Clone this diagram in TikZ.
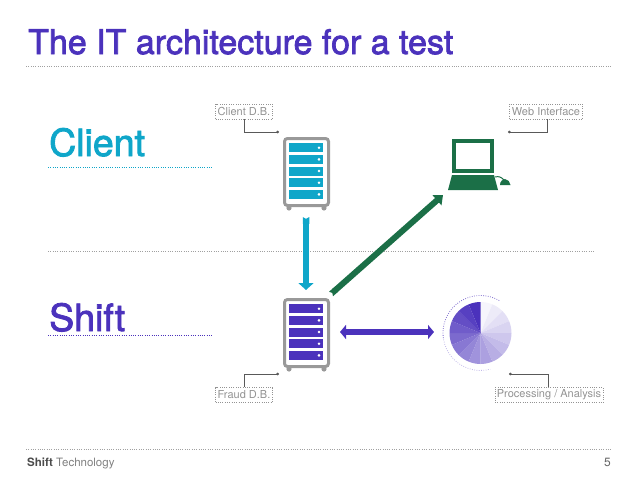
\documentclass[tikz,border=0pt]{standalone}
\usepackage{fontspec}
\setmainfont{TeX Gyre Heros}
\newfontfamily\medfont[FakeBold=2.2]{TeX Gyre Heros}
\usetikzlibrary{arrows.meta,calc}
\definecolor{shiftpurple}{HTML}{4B32BC}
\definecolor{clientcyan}{HTML}{0FA6C9}
\definecolor{webgreen}{HTML}{1B6F47}
\definecolor{rackgray}{HTML}{999999}
\definecolor{labelgray}{HTML}{939393}
\definecolor{rulegray}{HTML}{A0A0A0}
\tikzset{
  x=1pt,y=-1pt,
  hrule/.style={line width=0.8pt,dash pattern=on 0.8pt off 1.5pt},
  chead/.style={anchor=base west,inner sep=0pt,font=\medfont\fontsize{37.5}{37}\selectfont},
  callout/.style={draw=labelgray,line width=0.7pt,dash pattern=on 0.8pt off 1.5pt,text=labelgray,font=\fontsize{11}{11}\selectfont,inner sep=0pt,minimum height=15pt},
  lead/.style={draw=black!65,line width=0.8pt,{Circle[length=2.6pt]}-},
  serverbox/.style={draw=rackgray,line width=3pt,rounded corners=3pt,minimum width=44pt,minimum height=67pt,inner sep=0pt},
}
\newcommand{\serverbars}[2]{% name, colour
  \foreach \i in {0,1,2,3,4}{
    \fill[#2] ($(#1.north west)+(6.2,{6.3+11.67*\i})$) rectangle ++(34,9);
    \fill[white] ($(#1.north west)+(36,{10.7+11.67*\i})$) circle (1.4);
  }
  \fill[rackgray] ($(#1.south west)+(6,1)$) circle (2.6);
  \fill[rackgray] ($(#1.south east)+(-6,1)$) circle (2.6);
}
\begin{document}
\begin{tikzpicture}
\useasboundingbox (0,0) rectangle (638,479);
% title and rules
\node[anchor=base west,inner sep=0pt,text=shiftpurple,font=\medfont\fontsize{34}{34}\selectfont] (title) at (28,54) {The IT architecture for a test};
\coordinate (r1a) at (26,66); \coordinate (r1b) at (612,66);
\draw[hrule,rulegray] (r1a) -- (r1b);
\node[chead,text=clientcyan] (client) at (49,156) {Client};
\coordinate (r2a) at (48,167); \coordinate (r2b) at (213,167);
\draw[hrule,clientcyan] (r2a) -- (r2b);
\coordinate (r3a) at (48,251); \coordinate (r3b) at (594,251);
\draw[hrule,rulegray] (r3a) -- (r3b);
\node[chead,text=shiftpurple] (shift) at (49,331) {Shift};
\coordinate (r4a) at (48,335); \coordinate (r4b) at (213,335);
\draw[hrule,shiftpurple] (r4a) -- (r4b);
\coordinate (r5a) at (26,449); \coordinate (r5b) at (612,449);
\draw[hrule,rulegray] (r5a) -- (r5b);
% footer
\node[anchor=base west,inner sep=0pt,font=\fontsize{11.5}{12}\selectfont,text=black!50] (foot) at (27,466) {\textcolor{black!70}{\textbf{Shift}} Technology};
\node[anchor=base east,inner sep=0pt,font=\fontsize{12}{12}\selectfont,text=black!60] (page) at (611,466) {5};
% servers
\node[serverbox] (cdb) at (306.5,172) {};
\serverbars{cdb}{clientcyan}
\node[serverbox] (fdb) at (306.5,333) {};
\serverbars{fdb}{shiftpurple}
% laptop
\node[draw=webgreen,line width=4pt,minimum width=38pt,minimum height=30pt,inner sep=0pt] (web) at (473,156) {};
\fill[webgreen] (452,175) -- (494,175) -- (498,190) -- (448,190) -- cycle;
\draw[webgreen,line width=1pt] (495,177) .. controls (499,176) and (501,177) .. (504,180);
\fill[webgreen] (500,185) .. controls (500,181) and (503,179) .. (505,179) .. controls (508,179) and (510,182) .. (510.5,185) -- cycle;
% pie
\begin{scope}[shift={(480.5,333)},y=1pt]
\foreach \k in {0,...,15}{
  \pgfmathsetmacro{\mixv}{5+95*(\k/15)^1.1}
  \pgfmathsetmacro{\sa}{90-22.5*\k}
  \pgfmathsetmacro{\ea}{90-22.5*(\k+1)}
  \fill[shiftpurple!\mixv!white] (0,0) -- (\sa:31) arc[start angle=\sa,end angle=\ea,radius=31] -- cycle;
}
\draw[hrule,shiftpurple!70] (60:37.5) arc[start angle=60,end angle=190,radius=37.5];
\draw[hrule,shiftpurple!35] (190:37.5) arc[start angle=190,end angle=285,radius=37.5];
\end{scope}
% callouts
\node[callout,minimum width=57pt] (l1) at (244,111.5) {Client D.B.};
\node[callout,minimum width=73pt] (l2) at (546,111.5) {Web Interface};
\node[callout,minimum width=57pt] (l3) at (244,395) {Fraud D.B.};
\node[callout,minimum width=108pt] (l4) at (549,395) {Processing / Analysis};
\coordinate (e1) at (279,132); \coordinate (e2) at (508,132);
\coordinate (e3) at (279,374); \coordinate (e4) at (509,374);
\draw[lead] (e1) -| (l1.south -| 244,119);
\draw[lead] (e2) -| (l2.south -| 547,119);
\draw[lead] (e3) -| (l3.north -| 244,387);
\draw[lead] (e4) -| (l4.north -| 548,387);
% arrows
\coordinate (a1) at (306,217); \coordinate (a2) at (306,290);
\draw[clientcyan,line width=6.5pt,{Triangle Cap[reversed,cap angle=120]}-{Triangle[length=7pt,width=15pt]}] (a1) -- (a2);
\coordinate (g1) at (331,294); \coordinate (g2) at (443,195);
\draw[webgreen,line width=6pt,{Triangle Cap[reversed,cap angle=120]}-{Triangle[length=8pt,width=13pt]}] (g1) -- (g2);
\coordinate (p1) at (340,332); \coordinate (p2) at (434,332);
\draw[shiftpurple,line width=6pt,{Triangle[length=6pt,width=14pt]}-{Triangle[length=6pt,width=14pt]}] (p1) -- (p2);
\end{tikzpicture}
\end{document}
